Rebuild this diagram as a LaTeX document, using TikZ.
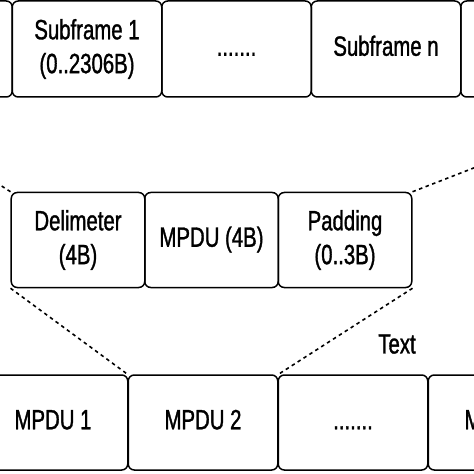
\documentclass[tikz,border=0pt]{standalone}
\usepackage{fontspec}
\setmainfont{Liberation Sans}[FakeStretch=0.73,FakeBold=1.2]

\begin{document}
\begin{tikzpicture}[x=1bp,y=-1bp,
    field/.style={draw,line width=1.5bp,rounded corners=6bp,align=center,inner sep=0pt,
        font=\fontsize{28}{34}\selectfont},
    wide/.style={field,minimum width=149.5bp,minimum height=96bp},
    narrow/.style={field,minimum width=133.5bp,minimum height=95bp},
    guide/.style={line width=1.6bp,dash pattern=on 3.5bp off 3.5bp}]
    \useasboundingbox (0,0) rectangle (474,474);
    \clip (0,0) rectangle (474,474);

    % aggregate frame
    \node[wide] (sfa) at (-62.5,49) {};
    \node[wide] (sf1) at (87,49) {Subframe 1\\(0..2306B)};
    \node[wide] (sfdots) at (236.5,49) {\strut.......};
    \node[wide] (sfn) at (386,49) {\strut Subframe n};
    \node[wide] (sfb) at (535.5,49) {};

    % one subframe
    \node[narrow] (delim) at (78,240) {Delimeter\\(4B)};
    \node[narrow] (mpdu) at (211.5,240) {\strut MPDU (4B)};
    \node[narrow] (pad) at (345,240) {Padding\\(0..3B)};

    % mpdu sequence
    \node[wide,minimum height=95bp] (mp1) at (53,422.5) {\strut MPDU 1};
    \node[wide,minimum height=95bp] (mp2) at (203,422.5) {\strut MPDU 2};
    \node[wide,minimum height=95bp] (mpdots) at (353,422.5) {\strut.......};
    \node[wide,minimum height=95bp] (mpn) at (503,422.5) {\strut MPDU n};

    \node[font=\fontsize{28}{34}\selectfont] (lbl) at (397,344) {Text};

    \coordinate (upl) at (-20,172);
    \coordinate (upr) at (520,150);
    \draw[guide] (delim.north west) -- (upl);
    \draw[guide] (pad.north east) -- (upr);
    \draw[guide] (delim.south west) -- (mp2.north west);
    \draw[guide] (pad.south east) -- (mp2.north east);
\end{tikzpicture}
\end{document}
